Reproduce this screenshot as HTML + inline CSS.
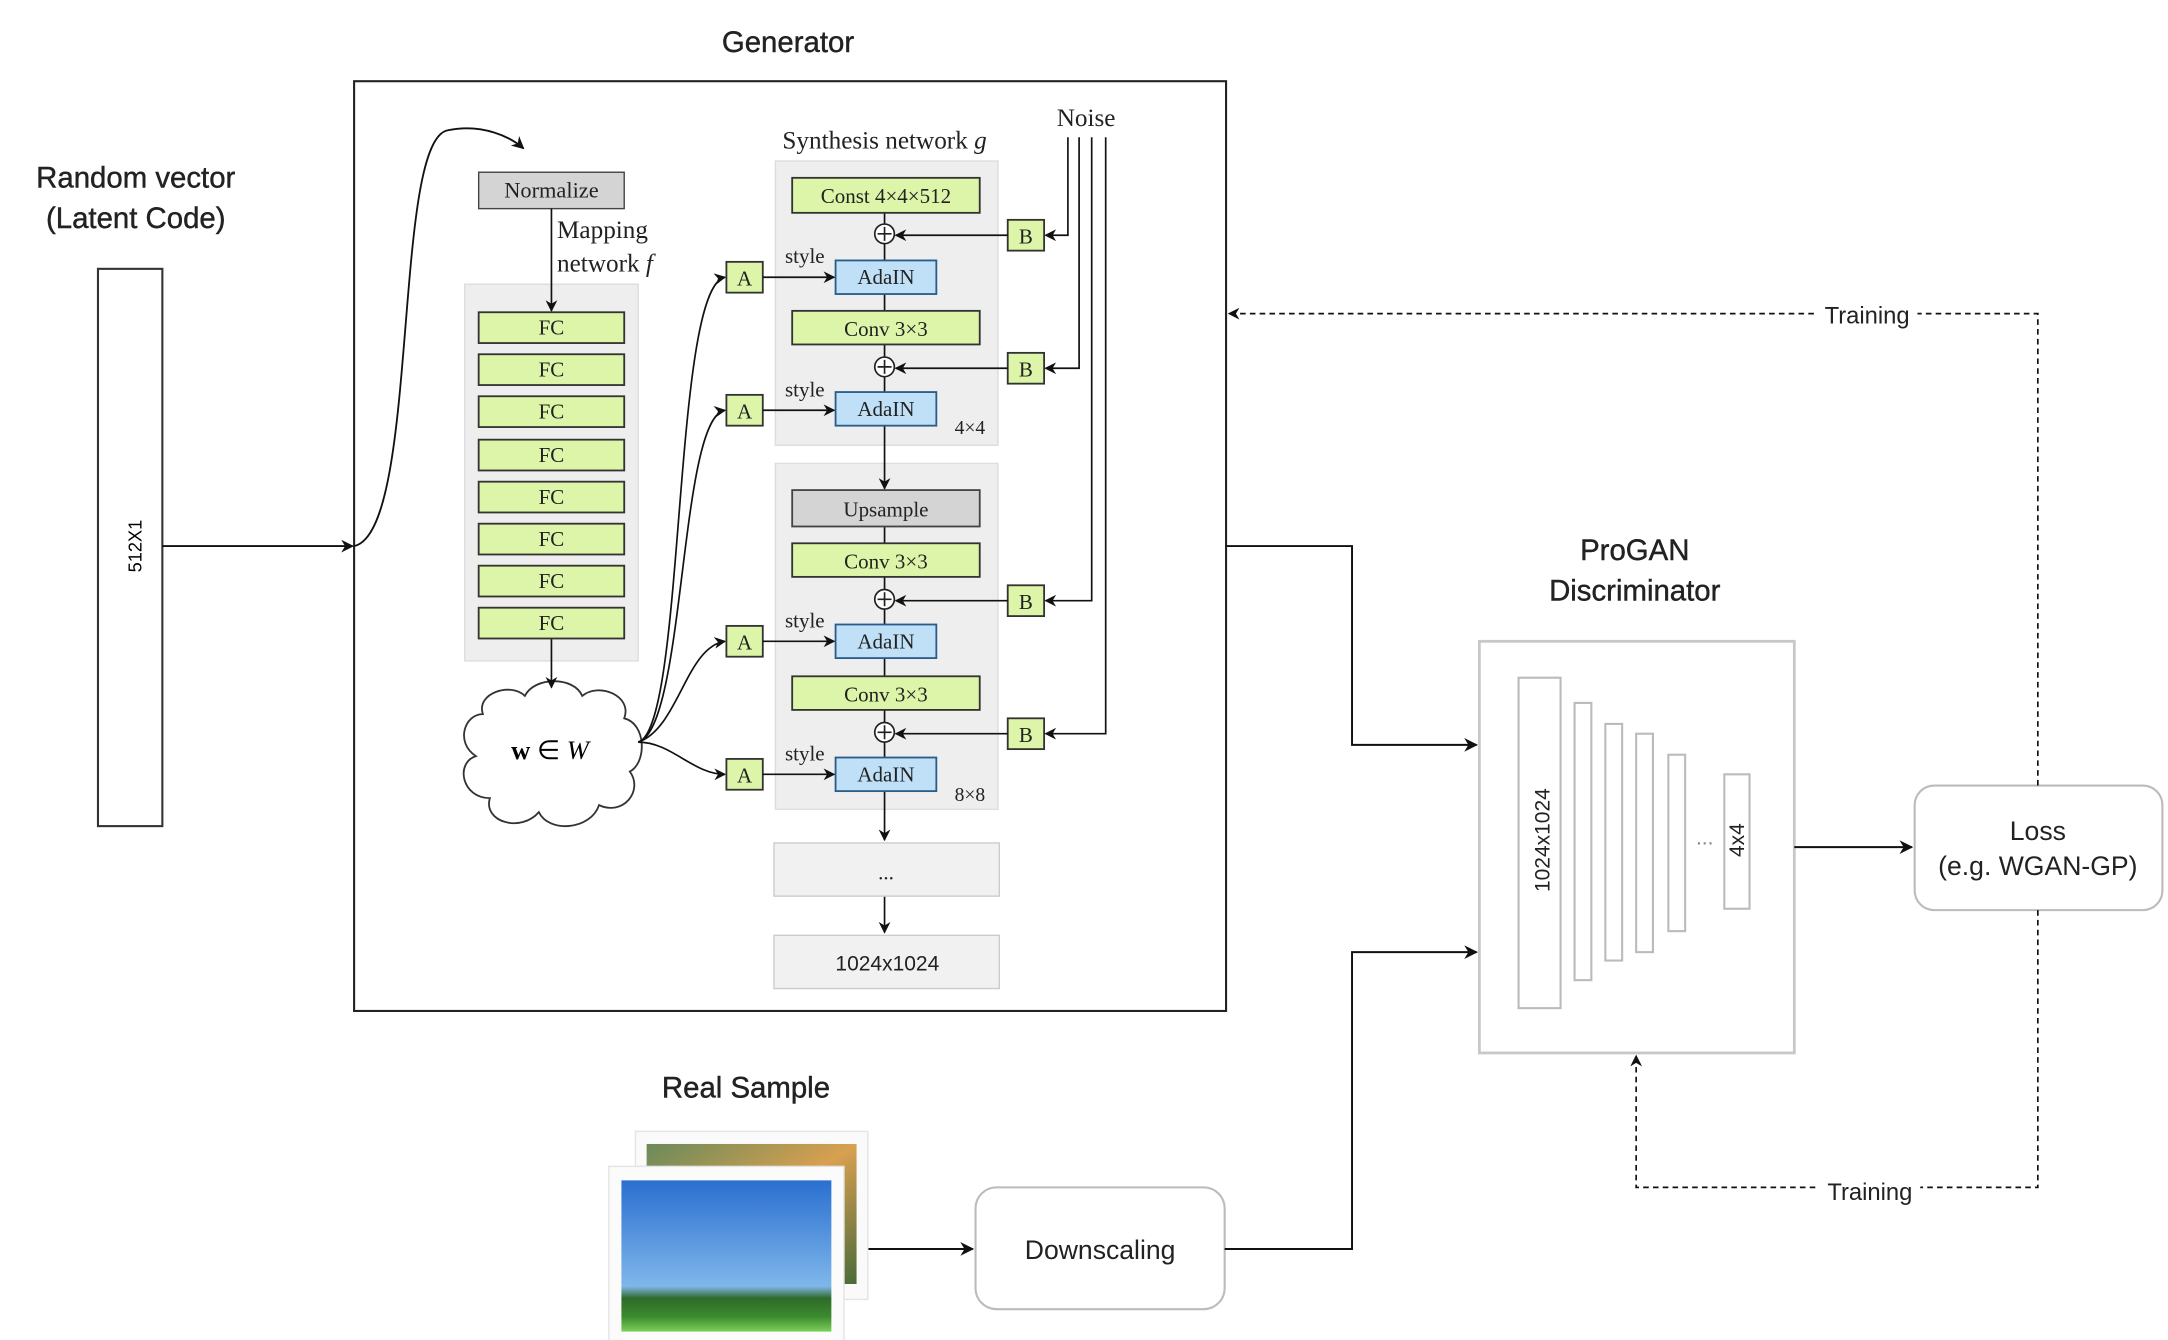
<!DOCTYPE html>
<html><head><meta charset="utf-8"><style>html,body{margin:0;padding:0;background:#fff}svg{display:block}</style></head><body>
<svg width="2168" height="1340" viewBox="0 0 1549 957" preserveAspectRatio="none" xmlns="http://www.w3.org/2000/svg">
<defs>
<marker id="ar" viewBox="0 0 10 10" refX="9" refY="5" markerWidth="7" markerHeight="7" orient="auto-start-reverse"><path d="M0,0 L10,5 L0,10 L3,5 z" fill="#111"/></marker>
<linearGradient id="sky" x1="0" y1="0" x2="0" y2="1"><stop offset="0" stop-color="#2a6fd0"/><stop offset="0.7" stop-color="#7fb6ea"/><stop offset="0.78" stop-color="#2f6a2a"/><stop offset="0.9" stop-color="#3c8a2e"/><stop offset="1" stop-color="#7ccf5a"/></linearGradient>
<linearGradient id="bk" x1="0" y1="0" x2="1" y2="1"><stop offset="0" stop-color="#6a8a5a"/><stop offset="0.5" stop-color="#d8a050"/><stop offset="1" stop-color="#4a6a3a"/></linearGradient>
</defs>
<rect width="1549" height="957" fill="#fff"/>
<g font-family="Liberation Sans, sans-serif" fill="#222" stroke="#222" stroke-width="0.3">
<text x="563" y="37" font-size="21" text-anchor="middle">Generator</text>
<text x="97" y="134" font-size="21" text-anchor="middle">Random vector</text>
<text x="97" y="163" font-size="21" text-anchor="middle">(Latent Code)</text>
<text x="1168" y="400" font-size="21" text-anchor="middle">ProGAN</text>
<text x="1168" y="429" font-size="21" text-anchor="middle">Discriminator</text>
<text x="533" y="784" font-size="21" text-anchor="middle">Real Sample</text>
</g>
<rect x="253" y="58" width="623" height="664" fill="none" stroke="#222" stroke-width="1.5"/>
<rect x="70" y="192" width="46" height="398" fill="#fff" stroke="#333" stroke-width="1.5"/>
<text transform="translate(101,390) rotate(-90)" font-family="Liberation Sans, sans-serif" font-size="13" text-anchor="middle">512X1</text>
<g stroke="#111" stroke-width="1.3" fill="none">
<line x1="116" y1="390" x2="252" y2="390" marker-end="url(#ar)"/>
<path d="M253,390 C300,380 280,100 320,93 C345,88 365,98 374,106" marker-end="url(#ar)"/>
</g>
<rect x="332" y="203" width="124" height="269" fill="#eee" stroke="#ddd"/>
<rect x="342" y="123" width="104" height="26" fill="#d4d4d4" stroke="#444"/>
<g font-family="Liberation Serif, serif" font-size="16" fill="#222">
<text x="394" y="141" text-anchor="middle">Normalize</text>
<text x="398" y="170" font-size="18">Mapping</text>
<text x="398" y="194" font-size="18">network <tspan font-style="italic">f</tspan></text>
<text x="632" y="106" font-size="18" text-anchor="middle">Synthesis network <tspan font-style="italic">g</tspan></text>
<text x="776" y="90" font-size="18" text-anchor="middle">Noise</text>
</g>
<path d="M345,510 C340,495 365,487 375,497 C382,483 410,483 416,497 C428,487 452,497 446,513 C462,517 462,545 450,551 C460,565 445,583 428,575 C422,593 392,595 385,580 C372,595 345,587 350,570 C330,570 325,545 340,540 C325,530 332,510 345,510 z" fill="#fff" stroke="#333" stroke-width="1.3"/>
<text x="393" y="542" font-family="Liberation Serif, serif" font-size="19" text-anchor="middle"><tspan font-weight="bold">w</tspan> ∈ <tspan font-style="italic">W</tspan></text>
<g stroke="#111" stroke-width="1.2" fill="none">
<line x1="394" y1="149" x2="394" y2="222" marker-end="url(#ar)"/>
<line x1="394" y1="456" x2="394" y2="491" marker-end="url(#ar)"/>
</g>
<g fill="#dcf5a8" stroke="#333" stroke-width="1.3">
<rect x="342" y="223" width="104" height="22"/><rect x="342" y="253" width="104" height="22"/>
<rect x="342" y="283" width="104" height="22"/><rect x="342" y="314" width="104" height="22"/>
<rect x="342" y="344" width="104" height="22"/><rect x="342" y="374" width="104" height="22"/>
<rect x="342" y="404" width="104" height="22"/><rect x="342" y="434" width="104" height="22"/>
</g>
<g font-family="Liberation Serif, serif" font-size="15" text-anchor="middle" fill="#222">
<text x="394" y="239">FC</text><text x="394" y="269">FC</text><text x="394" y="299">FC</text><text x="394" y="330">FC</text>
<text x="394" y="360">FC</text><text x="394" y="390">FC</text><text x="394" y="420">FC</text><text x="394" y="450">FC</text>
</g>
<g stroke="#111" stroke-width="1.2" fill="none">
<path d="M456,530 C490,520 480,205 518,198" marker-end="url(#ar)"/>
<path d="M456,530 C490,520 485,298 518,293" marker-end="url(#ar)"/>
<path d="M456,530 C485,520 490,462 518,458" marker-end="url(#ar)"/>
<path d="M456,530 C480,530 495,553 518,553" marker-end="url(#ar)"/>
</g>
<rect x="554" y="115" width="159" height="203" fill="#eee" stroke="#ddd"/>
<rect x="554" y="331" width="159" height="247" fill="#eee" stroke="#ddd"/>
<g stroke="#111" stroke-width="1.2" fill="none">
<line x1="632" y1="152" x2="632" y2="186"/><line x1="632" y1="210" x2="632" y2="222"/>
<line x1="632" y1="246" x2="632" y2="280"/><line x1="632" y1="304" x2="632" y2="349" marker-end="url(#ar)"/>
<line x1="632" y1="376" x2="632" y2="388"/><line x1="632" y1="412" x2="632" y2="446"/>
<line x1="632" y1="470" x2="632" y2="483"/><line x1="632" y1="507" x2="632" y2="541"/>
<line x1="632" y1="565" x2="632" y2="600" marker-end="url(#ar)"/>
<line x1="632" y1="640" x2="632" y2="666" marker-end="url(#ar)"/>
</g>
<g fill="#dcf5a8" stroke="#333" stroke-width="1.3">
<rect x="566" y="127" width="134" height="25"/><rect x="566" y="222" width="134" height="24"/>
<rect x="566" y="388" width="134" height="24"/><rect x="566" y="483" width="134" height="24"/>
</g>
<rect x="566" y="350" width="134" height="26" fill="#d4d4d4" stroke="#444" stroke-width="1.3"/>
<g fill="#bfe0f7" stroke="#2a5c8a" stroke-width="1.3">
<rect x="597" y="186" width="72" height="24"/><rect x="597" y="280" width="72" height="24"/>
<rect x="597" y="446" width="72" height="24"/><rect x="597" y="541" width="72" height="24"/>
</g>
<rect x="553" y="602" width="161" height="38" fill="#f1f1f1" stroke="#ccc"/>
<rect x="553" y="668" width="161" height="38" fill="#f1f1f1" stroke="#ccc"/>
<g fill="#fff" stroke="#222" stroke-width="1.2">
<circle cx="632" cy="167" r="7"/><circle cx="632" cy="262" r="7"/><circle cx="632" cy="428" r="7"/><circle cx="632" cy="523" r="7"/>
</g>
<g stroke="#222" stroke-width="1.2">
<path d="M627,167h10M632,162v10M627,262h10M632,257v10M627,428h10M632,423v10M627,523h10M632,518v10"/>
</g>
<g fill="#dcf5a8" stroke="#333" stroke-width="1.3">
<rect x="519" y="187" width="26" height="22"/><rect x="519" y="282" width="26" height="22"/>
<rect x="519" y="447" width="26" height="22"/><rect x="519" y="542" width="26" height="22"/>
<rect x="720" y="157" width="26" height="22"/><rect x="720" y="252" width="26" height="22"/>
<rect x="720" y="418" width="26" height="22"/><rect x="720" y="513" width="26" height="22"/>
</g>
<g stroke="#111" stroke-width="1.2" fill="none">
<line x1="545" y1="198" x2="596" y2="198" marker-end="url(#ar)"/>
<line x1="545" y1="293" x2="596" y2="293" marker-end="url(#ar)"/>
<line x1="545" y1="458" x2="596" y2="458" marker-end="url(#ar)"/>
<line x1="545" y1="553" x2="596" y2="553" marker-end="url(#ar)"/>
<line x1="720" y1="168" x2="640" y2="168" marker-end="url(#ar)"/>
<line x1="720" y1="263" x2="640" y2="263" marker-end="url(#ar)"/>
<line x1="720" y1="429" x2="640" y2="429" marker-end="url(#ar)"/>
<line x1="720" y1="524" x2="640" y2="524" marker-end="url(#ar)"/>
<path d="M763,98V168H747" marker-end="url(#ar)"/>
<path d="M771,98V263H747" marker-end="url(#ar)"/>
<path d="M780,98V429H747" marker-end="url(#ar)"/>
<path d="M790,98V524H747" marker-end="url(#ar)"/>
</g>
<g font-family="Liberation Serif, serif" font-size="15" text-anchor="middle" fill="#222">
<text x="633" y="145">Const 4×4×512</text>
<text x="633" y="203">AdaIN</text><text x="633" y="240">Conv 3×3</text><text x="633" y="297">AdaIN</text>
<text x="633" y="369">Upsample</text><text x="633" y="406">Conv 3×3</text><text x="633" y="463">AdaIN</text>
<text x="633" y="501">Conv 3×3</text><text x="633" y="558">AdaIN</text>
<text x="532" y="204">A</text><text x="532" y="299">A</text><text x="532" y="464">A</text><text x="532" y="559">A</text>
<text x="733" y="174">B</text><text x="733" y="269">B</text><text x="733" y="435">B</text><text x="733" y="530">B</text>
<text x="575" y="188">style</text><text x="575" y="283">style</text><text x="575" y="448">style</text><text x="575" y="543">style</text>
<text x="693" y="310" font-size="14">4×4</text><text x="693" y="572" font-size="14">8×8</text>
<text x="633" y="628">...</text>
</g>
<text x="634" y="693" font-family="Liberation Sans, sans-serif" font-size="15" text-anchor="middle" fill="#222">1024x1024</text>
<rect x="1057" y="458" width="225" height="294" fill="#fff" stroke="#c8c8c8" stroke-width="2"/>
<g fill="#fff" stroke="#bbb" stroke-width="1.5">
<rect x="1085" y="484" width="30" height="236"/><rect x="1125" y="502" width="12" height="198"/>
<rect x="1147" y="517" width="12" height="169"/><rect x="1169" y="524" width="12" height="156"/>
<rect x="1192" y="539" width="12" height="126"/><rect x="1232" y="553" width="18" height="96"/>
</g>
<g font-family="Liberation Sans, sans-serif" font-size="15" fill="#222" text-anchor="middle">
<text transform="translate(1107,600) rotate(-90)">1024x1024</text>
<text transform="translate(1246,600) rotate(-90)">4x4</text>
<text x="1218" y="603" fill="#888">...</text>
</g>
<rect x="1368" y="561" width="177" height="89" rx="14" fill="#fff" stroke="#bbb" stroke-width="1.5"/>
<text x="1456" y="600" font-family="Liberation Sans, sans-serif" font-size="19" text-anchor="middle" fill="#222">Loss</text>
<text x="1456" y="625" font-family="Liberation Sans, sans-serif" font-size="19" text-anchor="middle" fill="#222">(e.g. WGAN-GP)</text>
<rect x="697" y="848" width="178" height="87" rx="15" fill="#fff" stroke="#bbb" stroke-width="1.5"/>
<text x="786" y="899" font-family="Liberation Sans, sans-serif" font-size="19" text-anchor="middle" fill="#222">Downscaling</text>
<g stroke="#111" stroke-width="1.4" fill="none">
<path d="M876,390H966V532H1055" marker-end="url(#ar)"/>
<path d="M875,892H966V680H1055" marker-end="url(#ar)"/>
<line x1="1282" y1="605" x2="1366" y2="605" marker-end="url(#ar)"/>
<line x1="620" y1="892" x2="695" y2="892" marker-end="url(#ar)"/>
</g>
<g stroke="#111" stroke-width="1.2" fill="none" stroke-dasharray="4,3">
<path d="M1456,561V224H878" marker-end="url(#ar)"/>
<path d="M1456,650V848H1169V754" marker-end="url(#ar)"/>
</g>
<rect x="1298" y="214" width="72" height="20" fill="#fff"/>
<rect x="1300" y="840" width="72" height="20" fill="#fff"/>
<text x="1334" y="231" font-family="Liberation Sans, sans-serif" font-size="17" text-anchor="middle" fill="#222">Training</text>
<text x="1336" y="857" font-family="Liberation Sans, sans-serif" font-size="17" text-anchor="middle" fill="#222">Training</text>
<rect x="454" y="808" width="166" height="120" fill="#fafafa" stroke="#e4e4e4"/>
<rect x="462" y="817" width="150" height="100" fill="url(#bk)"/>
<rect x="435" y="833" width="168" height="128" fill="#fbfbfb" stroke="#e4e4e4"/>
<rect x="444" y="843" width="150" height="108" fill="url(#sky)"/>
</svg>
</body></html>
